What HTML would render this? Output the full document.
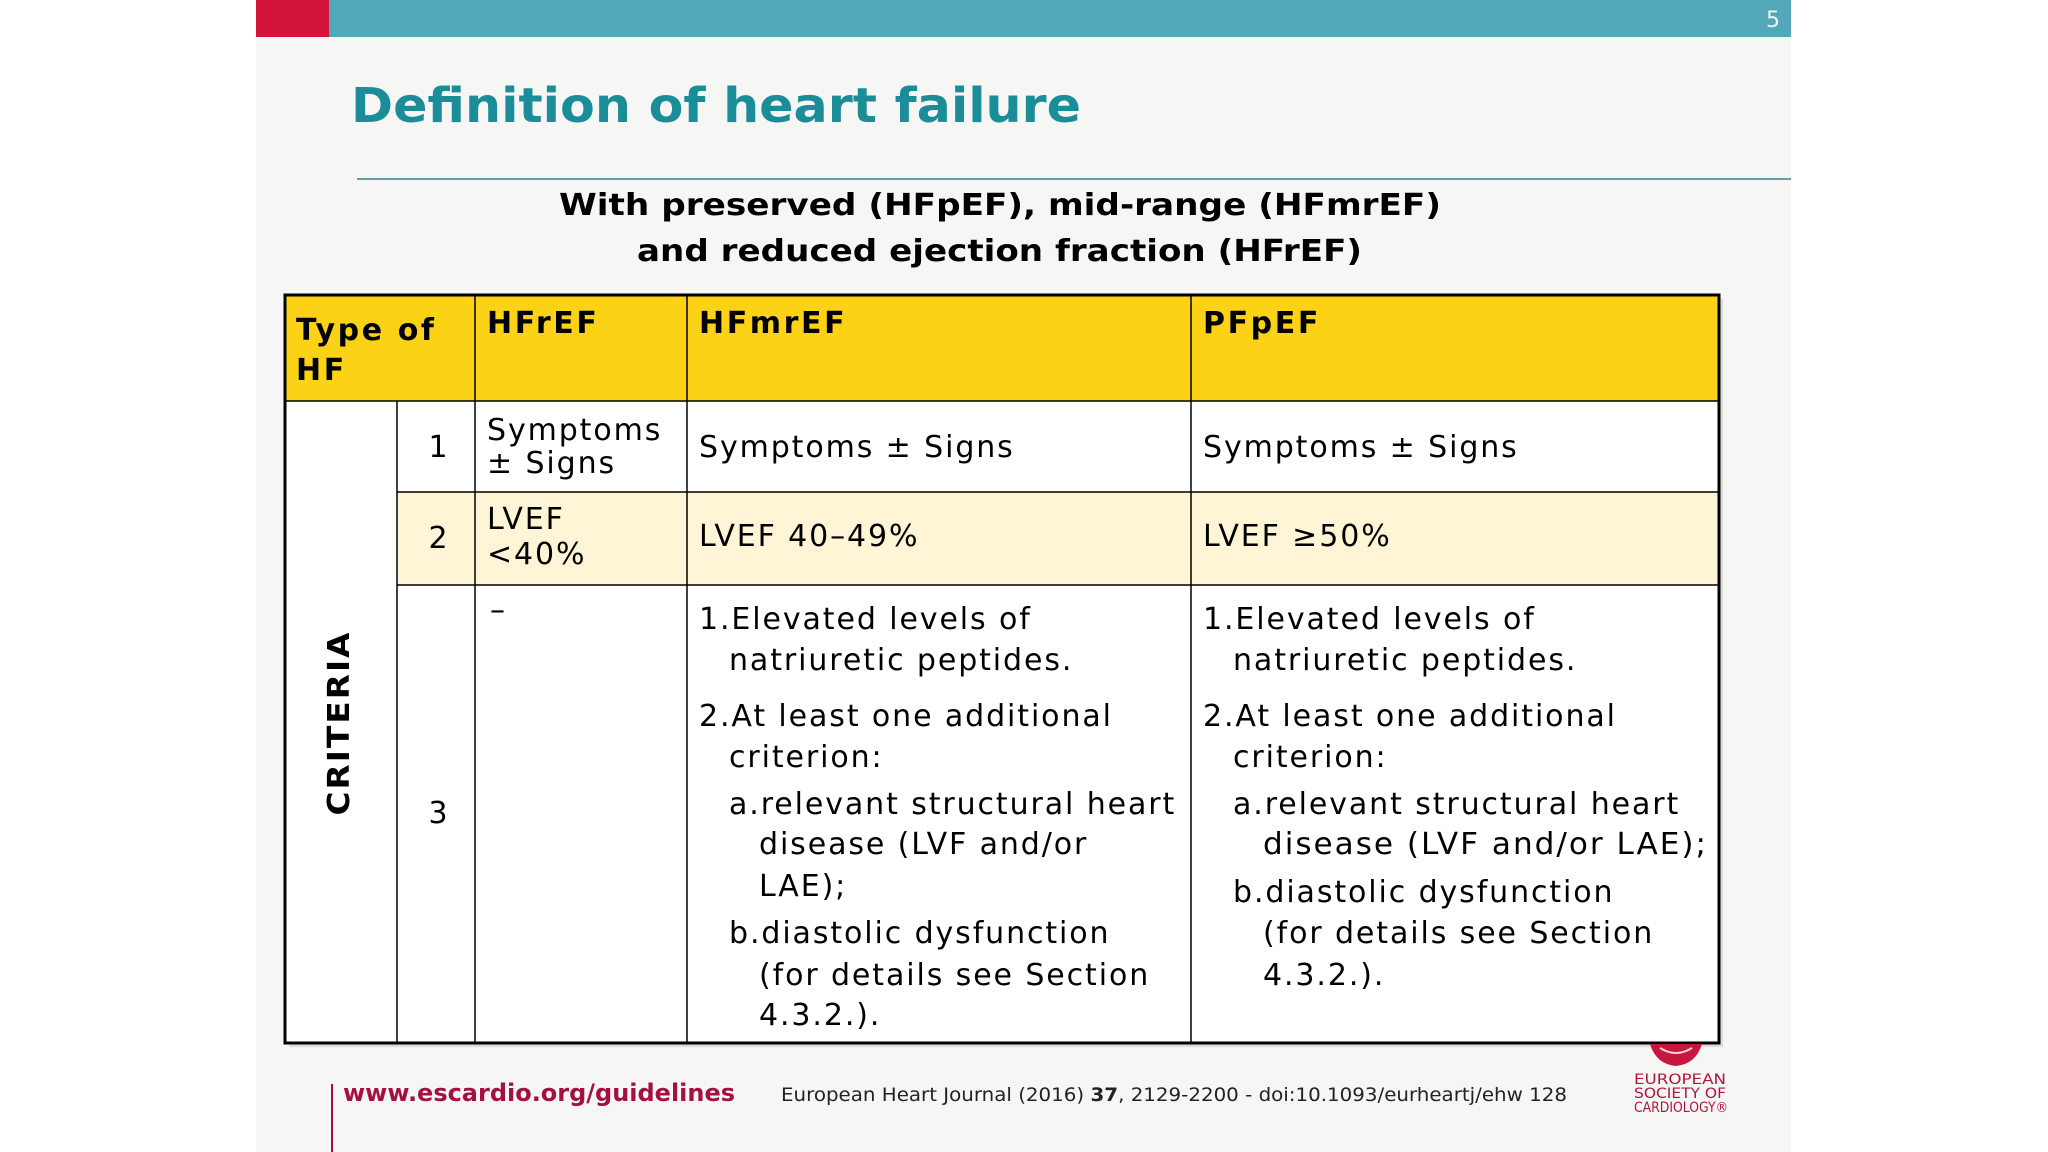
<!DOCTYPE html>
<html><head><meta charset="utf-8"><style>
html,body{margin:0;padding:0;background:#fff;}
svg{display:block;}
text{font-family:"DejaVu Sans","Liberation Sans",sans-serif;}
.b{font-weight:bold;}
.t text{letter-spacing:1.9px;}
.t .b text{letter-spacing:2.6px;}
</style></head><body>
<svg width="2048" height="1152" viewBox="0 0 2048 1152">
<rect x="256" y="0" width="1535" height="1152" fill="#f6f6f5"/>
<rect x="256" y="0" width="1535" height="37" fill="#52a8b8"/>
<rect x="256" y="0" width="73" height="37" fill="#d4143a"/>
<text x="1766" y="27" fill="#e8f4f6" font-size="22" font-family="Liberation Serif">5</text>
<text class="b" x="351" y="122" fill="#1a8d98" font-size="48" textLength="730" lengthAdjust="spacingAndGlyphs">Definition of heart failure</text>
<line x1="357" y1="179" x2="1791" y2="179" stroke="#6a9aa2" stroke-width="2"/>
<text class="b" x="559" y="215" font-size="30" textLength="882" lengthAdjust="spacingAndGlyphs">With preserved (HFpEF), mid-range (HFmrEF)</text>
<text class="b" x="637" y="261" font-size="30" textLength="725" lengthAdjust="spacingAndGlyphs">and reduced ejection fraction (HFrEF)</text>

<g class="t">
<rect x="289" y="299" width="1434" height="748" fill="#ccc" opacity="0.6"/>
<rect x="285" y="295" width="1434" height="748" fill="#fff"/>
<rect x="285" y="295" width="1434" height="106" fill="#fcd217"/>
<rect x="397" y="492" width="1322" height="93" fill="#fdf5d6"/>
<g stroke="#000" stroke-width="1.5">
<line x1="285" y1="401" x2="1719" y2="401"/>
<line x1="397" y1="492" x2="1719" y2="492"/>
<line x1="397" y1="585" x2="1719" y2="585"/>
<line x1="397" y1="401" x2="397" y2="1043"/>
<line x1="475" y1="295" x2="475" y2="1043"/>
<line x1="687" y1="295" x2="687" y2="1043"/>
<line x1="1191" y1="295" x2="1191" y2="1043"/>
</g>
<rect x="285" y="295" width="1434" height="748" fill="none" stroke="#000" stroke-width="3"/>
<g class="b" font-size="30">
<text x="296" y="340">Type of</text>
<text x="296" y="380">HF</text>
<text x="487" y="333">HFrEF</text>
<text x="699" y="333">HFmrEF</text>
<text x="1203" y="333">PFpEF</text>
</g>
<text class="b" font-size="30" transform="translate(349,723) rotate(-90)" text-anchor="middle" textLength="185" lengthAdjust="spacingAndGlyphs">CRITERIA</text>
<g font-size="30">
<text x="439" y="457" text-anchor="middle">1</text>
<text x="439" y="548" text-anchor="middle">2</text>
<text x="439" y="823" text-anchor="middle">3</text>
<text x="487" y="440">Symptoms</text>
<text x="487" y="473">± Signs</text>
<text x="699" y="457">Symptoms ± Signs</text>
<text x="1203" y="457">Symptoms ± Signs</text>
<text x="487" y="529">LVEF</text>
<text x="487" y="564">&lt;40%</text>
<text x="699" y="546">LVEF 40–49%</text>
<text x="1203" y="546">LVEF ≥50%</text>
<text x="490" y="620">–</text>
<g>
<text x="699" y="629">1.Elevated levels of</text>
<text x="729" y="670">natriuretic peptides.</text>
<text x="699" y="726">2.At least one additional</text>
<text x="729" y="767">criterion:</text>
<text x="729" y="814">a.relevant structural heart</text>
<text x="759" y="854">disease (LVF and/or</text>
<text x="759" y="896">LAE);</text>
<text x="729" y="943">b.diastolic dysfunction</text>
<text x="759" y="985">(for details see Section</text>
<text x="759" y="1025">4.3.2.).</text>
</g>
<g>
<text x="1203" y="629">1.Elevated levels of</text>
<text x="1233" y="670">natriuretic peptides.</text>
<text x="1203" y="726">2.At least one additional</text>
<text x="1233" y="767">criterion:</text>
<text x="1233" y="814">a.relevant structural heart</text>
<text x="1263" y="854" textLength="445" lengthAdjust="spacingAndGlyphs">disease (LVF and/or LAE);</text>
<text x="1233" y="902">b.diastolic dysfunction</text>
<text x="1263" y="943">(for details see Section</text>
<text x="1263" y="985">4.3.2.).</text>
</g>
</g>
</g>

<line x1="332" y1="1084" x2="332" y2="1152" stroke="#a0103a" stroke-width="2"/>
<text class="b" x="343" y="1101" fill="#a3123e" font-size="24" textLength="392" lengthAdjust="spacingAndGlyphs">www.escardio.org/guidelines</text>
<text x="781" y="1101" font-size="19" fill="#222" textLength="786" lengthAdjust="spacingAndGlyphs">European Heart Journal (2016) <tspan font-weight="bold">37</tspan>, 2129-2200 - doi:10.1093/eurheartj/ehw 128</text>
<g>
<path d="M1650 1044 L1702 1044 Q1696 1064 1676 1066 Q1656 1064 1650 1044Z" fill="#c8173f"/>
<path d="M1660 1048 Q1676 1058 1692 1048" stroke="#f6d0d8" stroke-width="2" fill="none"/>
<text x="1680" y="1084" text-anchor="middle" font-size="14" fill="#b01540" textLength="92" lengthAdjust="spacingAndGlyphs">EUROPEAN</text>
<text x="1680" y="1098" text-anchor="middle" font-size="14" fill="#b01540" textLength="92" lengthAdjust="spacingAndGlyphs">SOCIETY OF</text>
<text x="1681" y="1112" text-anchor="middle" font-size="14" fill="#b01540" textLength="94" lengthAdjust="spacingAndGlyphs">CARDIOLOGY®</text>
</g>
</svg>
</body></html>
